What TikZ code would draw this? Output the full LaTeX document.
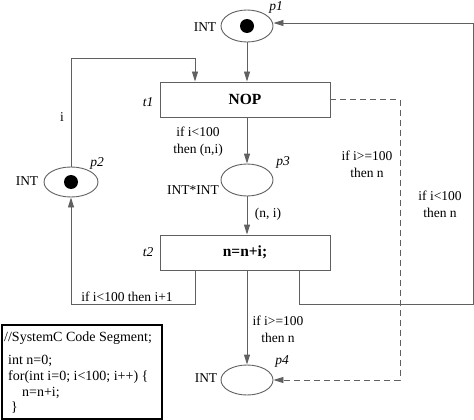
\documentclass[tikz,border=0pt]{standalone}
\usepackage{fontspec}
\setmainfont{Liberation Serif}
\usetikzlibrary{arrows.meta,shapes.geometric}
\definecolor{ln}{HTML}{606060}
\tikzset{
  place/.style={ellipse,draw=ln,line width=0.9pt,minimum width=#1,inner sep=0pt},
  trans/.style={rectangle,draw=ln,line width=0.9pt,minimum width=170pt,minimum height=35pt,inner sep=0pt,font=\fontsize{15.5}{17}\selectfont\bfseries},
  arc/.style={draw=ln,line width=0.9pt,-{Triangle[length=10pt,width=6pt]}},
  plain/.style={draw=ln,line width=0.9pt},
  lbl/.style={font=\fontsize{13.5}{17}\selectfont,inner sep=0pt,align=center},
  ilbl/.style={font=\fontsize{13.5}{16}\selectfont\itshape,inner sep=0pt},
  tok/.style={circle,fill=black,minimum size=14pt,inner sep=0pt},
  codebox/.style={draw=black,line width=1.6pt,minimum width=160pt,minimum height=94pt,inner sep=0pt}
}
\begin{document}
\begin{tikzpicture}[x=1pt,y=-1pt]
\useasboundingbox (0,0) rectangle (474,420);
% places
\node[place=52pt,minimum height=32pt] (p1) at (247,26) {};
\node[tok] (k1) at (p1) {};
\node[place=54pt,minimum height=30pt] (p2) at (71,182) {};
\node[tok] (k2) at (p2) {};
\node[place=52pt,minimum height=32pt] (p3) at (247,180) {};
\node[place=52pt,minimum height=30pt] (p4) at (247,380) {};
% transitions
\node[trans] (nop) at (245,99.5) {NOP};
\node[trans] (t2) at (245,252.5) {n=n+i;};
% helper coordinates
\coordinate (c1) at (195,58);
\coordinate (c2) at (195,304);
\coordinate (c3) at (299,304);
\coordinate (c4) at (473,23);
\coordinate (c5) at (400,380);
% arcs
\draw[arc] (p1.south) -- (p1.south |- nop.north);
\draw[arc] (nop.south -| p3.north) -- (p3.north);
\draw[arc] (p3.south) -- (p3.south |- t2.north);
\draw[arc] (t2.south -| p4.north) -- (p4.north);
\draw[arc] (p2.north) |- (c1) -- (c1 |- nop.north);
\draw[arc] (c2 |- t2.south) -- (c2) -| (p2.south);
\draw[arc] (c3 |- t2.south) -- (c3) -| (c4) -- (c4 -| p1.east);
\draw[arc,dashed,dash pattern=on 6pt off 4pt] (nop.east) -| (c5) -- (p4.east);
% labels
\node[ilbl] (lp1) at (276,7) {p1};
\node[lbl] (lint1) at (205,27) {INT};
\node[ilbl] (lt1) at (148,102) {t1};
\node[lbl] (li) at (62,117) {i};
\node[ilbl] (lp2) at (97,163) {p2};
\node[lbl] (lint2) at (27,181) {INT};
\node[lbl] (l1) at (198,142) {if i<100\\then (n,i)};
\node[ilbl] (lp3) at (283,162) {p3};
\node[lbl] (lint3) at (193,190) {INT*INT};
\node[lbl] (lni) at (268,214) {(n, i)};
\node[ilbl] (lt2) at (148,252) {t2};
\node[lbl] (l2) at (367,164) {if i>=100\\then n};
\node[lbl] (l3) at (440,204) {if i<100\\then n};
\node[lbl] (l4) at (127,297) {if i<100 then i+1};
\node[lbl] (l5) at (278,329) {if i>=100\\then n};
\node[ilbl] (lp4) at (282,361) {p4};
\node[lbl] (lint4) at (206,378) {INT};
% code box
\node[codebox] (code) at (82,372) {};
\node[lbl,anchor=west,font=\fontsize{14}{16}\selectfont] (cl1) at (4,338) {//SystemC Code Segment;};
\node[lbl,anchor=west,font=\fontsize{14}{16}\selectfont] (cl2) at (8,361) {int n=0;};
\node[lbl,anchor=west,font=\fontsize{14}{16}\selectfont] (cl3) at (8,377) {for(int i=0; i<100; i++) \{};
\node[lbl,anchor=west,font=\fontsize{14}{16}\selectfont] (cl4) at (22,393) {n=n+i;};
\node[lbl,anchor=west,font=\fontsize{14}{16}\selectfont] (cl5) at (11,408) {\}};
\end{tikzpicture}
\end{document}
